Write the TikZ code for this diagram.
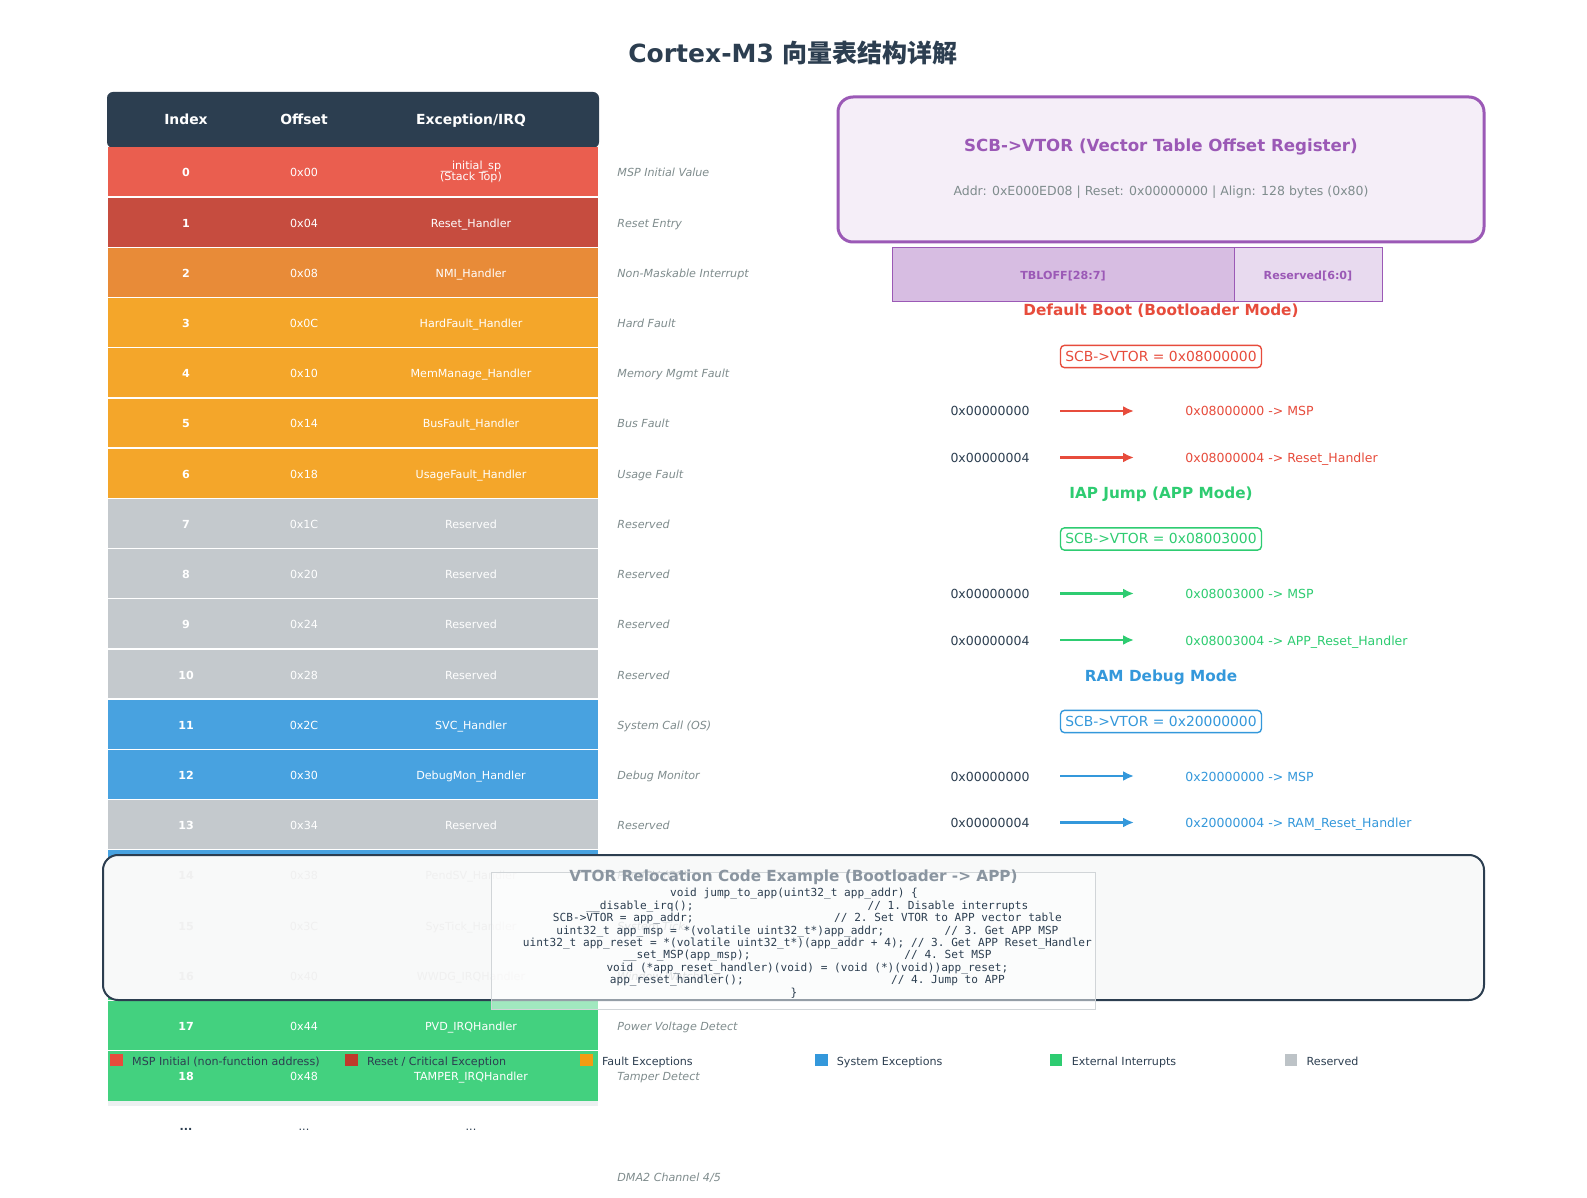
\documentclass[tikz,border=0pt]{standalone}
\usepackage{fontspec}
\setmainfont{DejaVu Sans}[ItalicFont={DejaVu Sans Oblique},BoldFont={DejaVu Sans Bold},BoldItalicFont={DejaVu Sans Bold Oblique}]
\setmonofont{DejaVu Sans Mono}
\newfontfamily\cjk{Noto Sans CJK SC}
\usetikzlibrary{arrows.meta}
\definecolor{hdr}{HTML}{2C3E50}
\definecolor{rMSP}{HTML}{EA5E4F}
\definecolor{rRst}{HTML}{C64C3F}
\definecolor{rNMI}{HTML}{E88B38}
\definecolor{rFlt}{HTML}{F4A62A}
\definecolor{rRes}{HTML}{C4C9CD}
\definecolor{rSys}{HTML}{48A2E0}
\definecolor{rExt}{HTML}{43D17F}
\definecolor{dsc}{HTML}{7F8C8D}
\definecolor{vpur}{HTML}{9B59B6}
\definecolor{vbg}{HTML}{F5EEF8}
\definecolor{tbl}{HTML}{D7BDE2}
\definecolor{rsv}{HTML}{E8DAEF}
\definecolor{cRed}{HTML}{E74C3C}
\definecolor{cGreen}{HTML}{2ECC71}
\definecolor{cBlue}{HTML}{3498DB}
\definecolor{codebg}{HTML}{F8F9F9}
\definecolor{lgRst}{HTML}{C0392B}
\definecolor{lgFlt}{HTML}{F39C12}
\definecolor{lgRes}{HTML}{BDC3C7}
\definecolor{strip}{HTML}{ECF0F1}
\definecolor{codettl}{HTML}{8A95A0}
\newcommand\codesp[1]{\hspace*{\dimexpr #1\fontcharwd\font`x\relax}}
\begin{document}
\begin{tikzpicture}[x=0.5pt,y=-0.5pt,
  every node/.style={text height=0.76em, text depth=0.26em},
  hd/.style={font=\fontsize{6.95pt}{8pt}\selectfont\bfseries, text=white, inner sep=0},
  ix/.style={font=\fontsize{5.56pt}{6.5pt}\selectfont\bfseries, text=white, inner sep=0},
  ce/.style={font=\fontsize{5.56pt}{6.5pt}\selectfont, text=white, inner sep=0},
  ds/.style={font=\fontsize{5.56pt}{6.5pt}\selectfont\itshape, text=dsc, anchor=west, inner sep=0},
  sect/.style={font=\fontsize{7.64pt}{9pt}\selectfont\bfseries, inner sep=0},
  vbox/.style={font=\fontsize{6.94pt}{8pt}\selectfont, draw, fill=white, line width=0.7pt, rounded corners=2pt, minimum height=11.15pt, inner xsep=2.4pt, inner ysep=0pt},
  addr/.style={font=\fontsize{6.25pt}{7.5pt}\selectfont, inner sep=0},
  arr/.style={line width=1.3pt, -{Latex[length=5.5pt,width=5pt]}},
  code/.style={font=\fontsize{5.56pt}{6.5pt}\selectfont\ttfamily, text=hdr, inner sep=0},
  lg/.style={font=\fontsize{5.56pt}{6.5pt}\selectfont, text=hdr, anchor=west, inner sep=0},
  bit/.style={font=\fontsize{5.56pt}{6.5pt}\selectfont\bfseries, text=vpur, inner sep=0}
]
\useasboundingbox[fill=white] (0,0) rectangle (1587,1198);

% title
\node[font=\fontsize{12.5pt}{15pt}\selectfont\bfseries, text=hdr, inner sep=0, anchor=base] (title) at (793,62.5) {Cortex-M3 {\cjk 向量表结构详解}};

% table header
\fill[hdr, rounded corners=3pt] (107,92) rectangle (599,148);
\node[hd] (hIdx) at (186,119.5) {Index};
\node[hd] (hOff) at (304,119.5) {Offset};
\node[hd] (hExc) at (471,119.5) {Exception/IRQ};

% row 0
\fill[rMSP] (108,147) rectangle (598,197.1);
\node[ix] (i0) at (186,172) {0};
\node[ce] (o0) at (304,172) {0x00};
\node[ce, align=center, text height=, text depth=, font=\fontsize{5.56pt}{5.9pt}\selectfont] (n0) at (471,172) {\_\_initial\_sp\\(Stack Top)};
\node[ds] (d0) at (617,172) {MSP Initial Value};

% rows
\foreach \i/\off/\nm/\dtext/\fc in {
  1/0x04/Reset\_Handler/Reset Entry/rRst,
  2/0x08/NMI\_Handler/Non-Maskable Interrupt/rNMI,
  3/0x0C/HardFault\_Handler/Hard Fault/rFlt,
  4/0x10/MemManage\_Handler/Memory Mgmt Fault/rFlt,
  5/0x14/BusFault\_Handler/Bus Fault/rFlt,
  6/0x18/UsageFault\_Handler/Usage Fault/rFlt,
  7/0x1C/Reserved/Reserved/rRes,
  8/0x20/Reserved/Reserved/rRes,
  9/0x24/Reserved/Reserved/rRes,
  10/0x28/Reserved/Reserved/rRes,
  11/0x2C/SVC\_Handler/System Call (OS)/rSys,
  12/0x30/DebugMon\_Handler/Debug Monitor/rSys,
  13/0x34/Reserved/Reserved/rRes,
  17/0x44/PVD\_IRQHandler/Power Voltage Detect/rExt,
  18/0x48/TAMPER\_IRQHandler/Tamper Detect/rExt}{
  \pgfmathsetmacro\yc{172+50.2*\i}
  \fill[\fc] (108,\yc-25.1) rectangle (598,\yc+25.1);
  \draw[white, line width=0.7pt] (108,\yc-25.1) -- (598,\yc-25.1);
  \node[ix] (i\i) at (186,\yc) {\i};
  \node[ce] (o\i) at (304,\yc) {\off};
  \node[ce] (n\i) at (471,\yc) {\nm};
  \node[ds] (d\i) at (617,\yc) {\dtext};
}
\foreach \i/\fc in {14/rSys,15/rSys,16/rExt}{
  \pgfmathsetmacro\yc{172+50.2*\i}
  \fill[\fc] (108,\yc-25.1) rectangle (598,\yc+25.1);
  \draw[white, line width=0.7pt] (108,\yc-25.1) -- (598,\yc-25.1);
}
\fill[strip] (108,1101) rectangle (598,1106);
\node[ix, text=hdr] (i19) at (186,1125.6) {...};
\node[ce, text=hdr] (o19) at (304,1125.6) {...};
\node[ce, text=hdr] (n19) at (471,1125.6) {...};
\node[ds] (d20) at (617,1176) {DMA2 Channel 4/5};

% VTOR register box
\draw[vpur, line width=1.5pt, fill=vbg, rounded corners=7.5pt] (838,97) rectangle (1484,242);
\node[font=\fontsize{8.33pt}{10pt}\selectfont\bfseries, text=vpur, inner sep=0] (vtitle) at (1161,147) {SCB->VTOR (Vector Table Offset Register)};
\node[addr, text=dsc] (vaddr) at (1161,191) {Addr: 0xE000ED08 | Reset: 0x00000000 | Align: 128 bytes (0x80)};
\draw[vpur, line width=0.5pt, fill=tbl] (892,248) rectangle (1234,302);
\draw[vpur, line width=0.5pt, fill=rsv] (1234,248) rectangle (1382,302);
\node[bit] (tbloff) at (1063,275) {TBLOFF[28:7]};
\node[bit] (rsvbits) at (1308,275) {Reserved[6:0]};

% modes
\foreach \k/\col/\ttl/\vt/\mv/\rv in {
  0/cRed/Default Boot (Bootloader Mode)/0x08000000/0x08000000 -> MSP/0x08000004 -> Reset\_Handler,
  1/cGreen/IAP Jump (APP Mode)/0x08003000/0x08003000 -> MSP/0x08003004 -> APP\_Reset\_Handler,
  2/cBlue/RAM Debug Mode/0x20000000/0x20000000 -> MSP/0x20000004 -> RAM\_Reset\_Handler}{
  \pgfmathsetmacro\ys{311+182.5*\k}
  \node[sect, text=\col] (m\k) at (1161,\ys) {\ttl};
  \node[vbox, draw=\col, text=\col] (v\k) at (1161,\ys+45.5) {SCB->VTOR = \vt};
  \node[addr, text=hdr] (a\k) at (990,\ys+100) {0x00000000};
  \node[addr, text=hdr] (b\k) at (990,\ys+146.5) {0x00000004};
  \coordinate (as\k) at (1060,\ys+100);
  \coordinate (ae\k) at (1134,\ys+100);
  \coordinate (bs\k) at (1060,\ys+146.5);
  \coordinate (be\k) at (1134,\ys+146.5);
  \draw[arr, \col] (as\k) -- (ae\k);
  \draw[arr, \col] (bs\k) -- (be\k);
  \node[addr, text=\col, anchor=west] (ma\k) at (1185,\ys+100) {\mv};
  \node[addr, text=\col, anchor=west] (mb\k) at (1185,\ys+146.5) {\rv};
}

% code overlay
\draw[hdr, line width=1pt, fill=codebg, rounded corners=7.5pt] (103,855) rectangle (1484,1000);
\foreach \i/\nm/\dtext in {14/PendSV\_Handler/PendSV (OS),15/SysTick\_Handler/System Tick,16/WWDG\_IRQHandler/Window Watchdog}{
  \pgfmathsetmacro\yc{172+50.2*\i}
  \node[ix, text=white!88!gray] (i\i) at (186,\yc) {\i};
  \node[ce, text=white!88!gray] (o\i) at (304,\yc) {0x\ifnum\i=14 38\fi\ifnum\i=15 3C\fi\ifnum\i=16 40\fi};
  \node[ce, text=white!88!gray] (n\i) at (471,\yc) {\nm};
  \node[ds, text=dsc!45!white] (d\i) at (617,\yc) {\dtext};
}
\fill[white, fill opacity=0.5] (491,872) rectangle (1095,1009);
\draw[lgRes!70!white, line width=0.5pt] (491,872) rectangle (1095,1009);
\node[font=\fontsize{7.64pt}{9pt}\selectfont\bfseries, text=codettl, inner sep=0] (ctitle) at (793.5,876.5) {VTOR Relocation Code Example (Bootloader -> APP)};
\node[code] (c1) at (794,891.8) {void jump\_to\_app(uint32\_t app\_addr) \{};
\node[code] (c2) at (794,904.2) {\codesp{4}\_\_disable\_irq();\codesp{26}// 1. Disable interrupts};
\node[code] (c3) at (794,916.6) {\codesp{4}SCB->VTOR = app\_addr;\codesp{21}// 2. Set VTOR to APP vector table};
\node[code] (c4) at (794,929.0) {\codesp{4}uint32\_t app\_msp = *(volatile uint32\_t*)app\_addr;\codesp{9}// 3. Get APP MSP};
\node[code] (c5) at (794,941.4) {\codesp{4}uint32\_t app\_reset = *(volatile uint32\_t*)(app\_addr + 4); // 3. Get APP Reset\_Handler};
\node[code] (c6) at (794,953.8) {\codesp{4}\_\_set\_MSP(app\_msp);\codesp{23}// 4. Set MSP};
\node[code] (c7) at (794,966.2) {\codesp{4}void (*app\_reset\_handler)(void) = (void (*)(void))app\_reset;};
\node[code] (c8) at (794,978.6) {\codesp{4}app\_reset\_handler();\codesp{22}// 4. Jump to APP};
\node[code] (c9) at (794,991.0) {\}};

% legend
\foreach \j/\c/\t in {0/cRed/MSP Initial (non-function address),1/lgRst/{Reset / Critical Exception},2/lgFlt/Fault Exceptions,3/cBlue/System Exceptions,4/cGreen/External Interrupts,5/lgRes/Reserved}{
  \pgfmathsetmacro\xl{110.3+234.9*\j}
  \fill[\c] (\xl,1053.8) rectangle (\xl+12.5,1066.3);
  \node[lg] (lg\j) at (\xl+21.5,1060) {\t};
}
\end{tikzpicture}
\end{document}
